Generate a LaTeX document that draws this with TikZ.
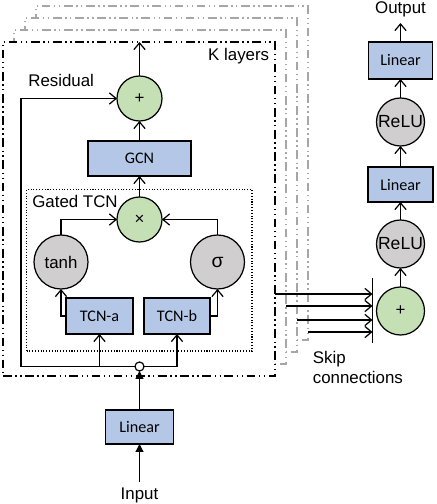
\documentclass[tikz,border=0pt]{standalone}
\usepackage{fontspec}
\setmainfont{Liberation Sans}
\newfontfamily\boxfont{Carlito}
\usetikzlibrary{calc,positioning,arrows.meta,fit}

\definecolor{boxblue}{HTML}{B4C7E7}
\definecolor{sumgreen}{HTML}{C5E0B4}
\definecolor{actgray}{HTML}{D0CECE}

\begin{document}
\begin{tikzpicture}[
    font=\fontsize{9.6}{11.4}\selectfont,
    line width=0.7pt,
    every node/.append style={outer sep=0pt},
    >={Straight Barb[length=3.8pt,width=6.4pt]},
    feed/.style={-{Triangle[length=4.5pt,width=4.5pt]}},
    blk/.style={draw, fill=boxblue, minimum height=0.72cm, font=\boxfont\fontsize{9.2}{11}\selectfont},
    gsum/.style={draw, circle, fill=sumgreen, minimum size=0.9cm, inner sep=0pt},
    act/.style={draw, circle, fill=actgray, minimum size=1.08cm, inner sep=0pt},
    layer/.style={draw, fill=white, minimum width=5.44cm, minimum height=6.68cm,
        dash pattern=on 5pt off 2pt on 0.8pt off 2pt on 0.8pt off 2pt},
]
    \useasboundingbox (0,0) rectangle (8.72,-10.08);

    % stacked layers, back to front
    \foreach \k in {3,2,1} {
        \node[layer, draw=gray!70, line width=0.6pt] (lay\k) at ($(2.78,-4.18)+(0.22*\k,0.24*\k)$) {};
    }
    \node[layer] (lay0) at (2.78,-4.18) {};

    % main column
    \node[blk, minimum width=1.36cm, minimum height=0.68cm] (inlin) at (2.79,-8.54) {Linear};
    \node[below=0.76cm of inlin] (input) {Input};
    \node[draw, circle, fill=white, minimum size=0.18cm, inner sep=0pt, above=0.78cm of inlin] (j) {};
    \node[blk, minimum width=1.34cm, above=0.56cm of j, xshift=-0.8cm] (tcna) {TCN-a};
    \node[blk, minimum width=1.32cm, above=0.56cm of j, xshift=0.75cm] (tcnb) {TCN-b};
    \node[act, above=0.18cm of tcna, xshift=-0.77cm] (tanh) {tanh};
    \node[act, above=0.18cm of tcnb, xshift=0.81cm, font=\fontsize{11}{13}\selectfont] (sigma) {σ};
    \node[gsum, above=2.4cm of j] (times) {×};
    \node[blk, minimum width=2.06cm, minimum height=0.7cm, above=0.42cm of times] (gcn) {GCN};
    \node[gsum, above=0.4cm of gcn] (plus) {+};

    \coordinate (gatedlow) at ($(tcna.south)+(0,-0.19)$);
    \node[draw, densely dotted, line width=0.6pt, inner sep=0.15cm,
        fit=(tanh)(sigma)(times)(tcna)(tcnb)(gatedlow)] (gated) {};
    \node[anchor=north west] (gatedlbl) at (gated.north west) {Gated TCN};
    \node[anchor=north east] (klbl) at (lay0.north east) {K layers};

    \coordinate (rescorner) at ($(lay0.west |- plus)+(0.36,0)$);
    \node[above right=0.12cm and 0.03cm of rescorner] (reslbl) {Residual};

    \draw[feed] (input) -- (inlin);
    \draw[feed] (inlin) -- (j);
    \draw[->] (j.west) -| (rescorner) -- (plus.west);
    \draw[->] (tcna.south |- j) -- (tcna.south);
    \draw[->] (j.east) -| (tcnb.south);
    \draw[->] (tcna.west) -| (tanh.south);
    \draw[->] (tcnb.east) -| (sigma.south);
    \draw[->] (tanh.north) |- (times.west);
    \draw[->] (sigma.north) |- (times.east);
    \draw[->] (times) -- (gcn);
    \draw[->] (gcn) -- (plus);
    \draw[->] (plus.north) -- (plus |- lay0.north);

    % output column
    \node[gsum, minimum size=0.96cm] (sumr) at (8.01,-6.22) {+};
    \node[act, minimum size=0.96cm, above=0.38cm of sumr, font=\fontsize{10}{12}\selectfont] (relu1) {ReLU};
    \node[blk, minimum width=1.3cm, minimum height=0.7cm, above=0.36cm of relu1] (lin2) {Linear};
    \node[act, minimum size=0.96cm, above=0.42cm of lin2, font=\fontsize{10}{12}\selectfont] (relu2) {ReLU};
    \node[blk, minimum width=1.28cm, minimum height=0.74cm, above=0.38cm of relu2] (lin3) {Linear};
    \node[above=0.38cm of lin3] (output) {Output};

    \draw[->] (sumr) -- (relu1);
    \draw[->] (relu1) -- (lin2);
    \draw[->] (lin2) -- (relu2);
    \draw[->] (relu2) -- (lin3);
    \draw[->] (lin3) -- (output);

    % skip connections
    \coordinate (bar) at ($(sumr.west)+(-0.08,0)$);
    \coordinate (bartop) at ($(bar)+(0,0.66)$);
    \coordinate (barbot) at ($(bar)+(0,-0.64)$);
    \draw (bartop) -- (barbot);
    \foreach \k/\dy in {0/-1.7, 1/-2.18, 2/-2.7, 3/-3.18} {
        \draw[->] ([yshift=\dy cm]lay\k.east) -- ([yshift=\dy cm]lay\k.east -| bar);
    }
    \node[anchor=north west, align=left] (skiplbl) at ($(barbot)+(-1.31,-0.04)$) {Skip\\connections};

\end{tikzpicture}
\end{document}
